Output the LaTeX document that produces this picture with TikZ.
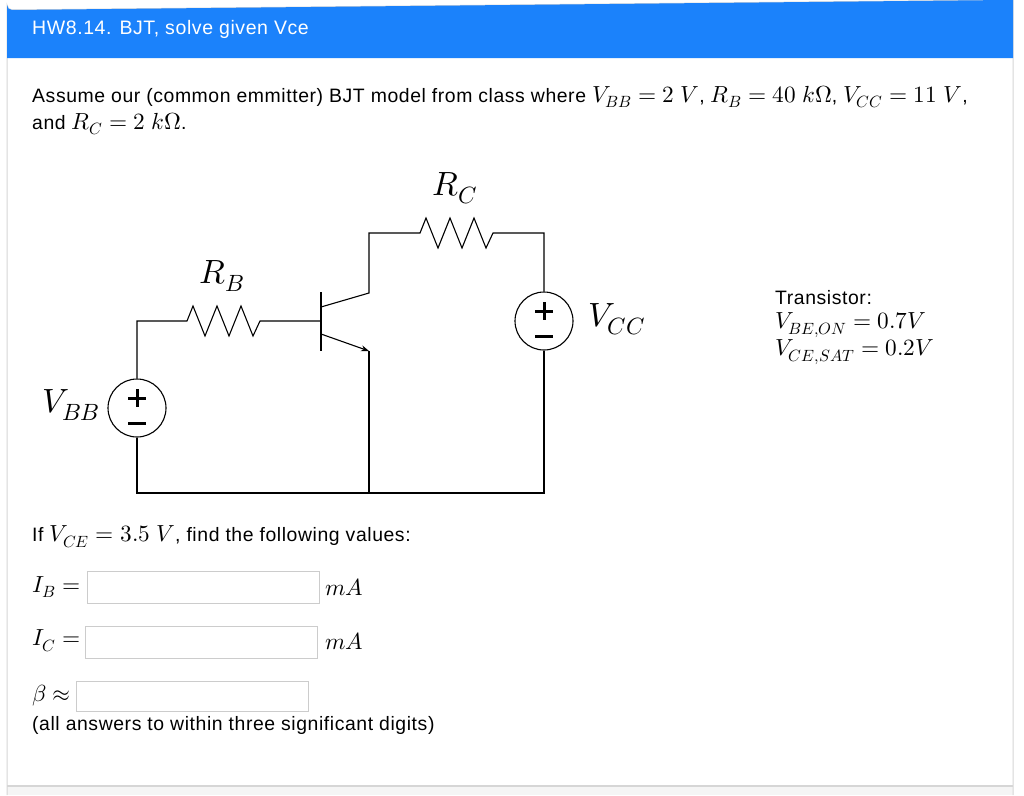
\documentclass[tikz,border=0pt]{standalone}
\usepackage{fontspec}
\setmainfont{Liberation Sans}[LetterSpace=3]
\usepackage{unicode-math}
\setmathfont{Latin Modern Math}[Scale=1.2]
\usetikzlibrary{arrows.meta}
\definecolor{hdr}{HTML}{1B82FB}
\definecolor{bord}{HTML}{D6D6D6}
\definecolor{foot}{HTML}{F5F5F5}
\definecolor{boxb}{HTML}{CCCCCC}
\tikzset{wire/.style={line width=1.1pt,black},
 txt/.style={anchor=west,inner sep=0pt,font=\fontsize{19.4}{20}\selectfont},
 lab/.style={inner sep=0pt,font=\fontsize{28}{30}\selectfont},
 ansbox/.style={draw=boxb,line width=1pt,fill=white,anchor=north west,minimum width=232pt,minimum height=32pt,inner sep=0pt}}
\begin{document}
\begin{tikzpicture}[x=1pt,y=-1pt]
\useasboundingbox (0,0) rectangle (1024,795);
\fill[white] (0,0) rectangle (1024,795);
\fill[foot] (7,786) rectangle (1013,795);
\draw[bord,line width=1pt] (7,795) -- (7,5) arc[start angle=180,end angle=90,radius=5] -- (1008,0) arc[start angle=90,end angle=0,radius=5] -- (1013,795);
\draw[bord,line width=1.5pt] (7,786) -- (1013,786);
\fill[hdr] (7,58) -- (7,5) arc[start angle=180,end angle=90,radius=5] -- (1008,0) arc[start angle=90,end angle=0,radius=5] -- (1013,58) -- cycle;
\node[txt,text=white,font=\fontsize{19.5}{20}\selectfont] (title) at (32,29) {HW8.14. BJT, solve given Vce};
\node[txt] (l1) at (32,97) {Assume our (common emmitter) BJT model from class where $V_{BB}=2\;V$, $R_B=40\;k\Omega$, $V_{CC}=11\;V$,};
\node[txt] (l2) at (32,124) {and $R_C=2\;k\Omega$.};
% circuit
\coordinate (tl) at (137,321);
\coordinate (rb1) at (187,321);
\coordinate (rb2) at (260,321);
\coordinate (base) at (321,321);
\coordinate (c1) at (321,307);
\coordinate (c2) at (369,293);
\coordinate (ctop) at (369,233);
\coordinate (rc1) at (420,233);
\coordinate (rc2) at (493,233);
\coordinate (tr) at (544,233);
\coordinate (e1) at (321,334);
\coordinate (e2) at (369,351);
\coordinate (bm) at (369,493);
\coordinate (bl) at (137,493);
\coordinate (br) at (544,493);
\node[draw,wire,circle,minimum size=58pt,inner sep=0pt] (vbb) at (137,408) {};
\node[draw,wire,circle,minimum size=58pt,inner sep=0pt] (vcc) at (544,321) {};
\draw[wire] (vbb.north) -- (tl) -- (rb1) -- ++(6,-15) -- ++(12,30) -- ++(12,-30) -- ++(12,30) -- ++(12,-30) -- ++(12,30) -- ++(7,-15) -- (base);
\draw[wire] (321,292) -- (321,351);
\draw[wire] (c1) -- (c2) -- (ctop) -- (rc1) -- ++(6,-15) -- ++(12,30) -- ++(12,-30) -- ++(12,30) -- ++(12,-30) -- ++(12,30) -- ++(7,-15) -- (tr) -- (vcc.north);
\draw[wire,-{Stealth[length=8pt,width=6pt]}] (e1) -- (e2);
\draw[wire] (e2) -- (bm);
\draw[wire] (vbb.south) -- (bl) -- (br) -- (vcc.south);
\foreach \c in {vbb,vcc}{
 \draw[line width=3pt] ([yshift=10pt]\c.center) ++(-9,0) -- ++(18,0);
 \draw[line width=3pt] ([yshift=10pt]\c.center) ++(0,-9) -- ++(0,18);
 \draw[line width=3pt] ([yshift=-15pt]\c.center) ++(-9,0) -- ++(18,0);}
\node[lab] (lrc) at (455,188) {$R_C$};
\node[lab] (lrb) at (222,276) {$R_B$};
\node[lab,anchor=west] (lvcc) at (588,319) {$V_{CC}$};
\node[lab,anchor=east] (lvbb) at (100,405) {$V_{BB}$};
% transistor info
\node[txt] (tr1) at (775,298) {Transistor:};
\node[txt] (tr2) at (775,325) {$V_{BE,ON}=0.7V$};
\node[txt] (tr3) at (775,352) {$V_{CE,SAT}=0.2V$};
% questions
\node[txt] (q) at (32,537) {If $V_{CE}=3.5\;V$, find the following values:};
\node[txt] (ib) at (32,587) {$I_B=$};
\node[ansbox] (b1) at (87,571) {};
\node[txt] (m1) at (325,587) {$mA$};
\node[txt] (ic) at (32,641) {$I_C=$};
\node[ansbox] (b2) at (85,626) {};
\node[txt] (m2) at (325,641) {$mA$};
\node[txt] (be) at (32,696) {$\beta\approx$};
\node[ansbox,minimum height=30pt] (b3) at (76,681) {};
\node[txt] (note) at (32,725) {(all answers to within three significant digits)};
\end{tikzpicture}
\end{document}
